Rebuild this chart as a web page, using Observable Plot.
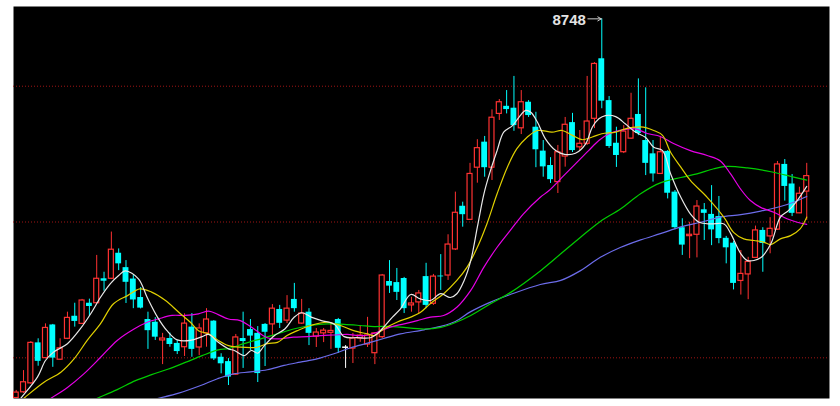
<!DOCTYPE html>
<html><head><meta charset="utf-8">
<script src="https://cdn.jsdelivr.net/npm/d3@7"></script>
<script src="https://cdn.jsdelivr.net/npm/@observablehq/plot@0.6"></script>
<style>html,body{margin:0;padding:0;background:#fff;}</style>
</head><body><div id="chart"></div>
<script>
const opens = [7352,7373,7406,7555,7499,7621,7493,7570,7653,7625,
7701,7701,7791,7791,7885,7832,7790,7722,7641,7631,
7564,7571,7553,7539,7613,7538,7590,7635,7502,7486,
7438,7571,7604,7590,7623,7623,7678,7637,7715,7626,
7668,7578,7590,7592,7641,7539,7534,7571,7549,7517,
7576,7781,7777,7792,7693,7704,7799,7699,7801,7803,
7899,8058,8008,8200,8294,8200,8398,8426,8419,8345,
8441,8349,8261,8208,8147,8241,8366,8275,8288,8380,
8601,8447,8290,8257,8307,8396,8300,8251,8177,8260,
8110,7979,7948,7953,8045,8028,8020,7940,7922,7783,
7807,7868,7969,7947,7972,8212,8140,8032,8112];
const closes = [7372,7410,7555,7487,7610,7499,7535,7647,7634,7711,
7689,7791,7782,7898,7846,7778,7713,7683,7600,7576,
7571,7549,7523,7626,7531,7608,7641,7496,7478,7429,
7575,7560,7580,7442,7594,7681,7627,7681,7681,7663,
7590,7593,7600,7599,7535,7539,7571,7582,7582,7590,
7803,7764,7741,7681,7700,7737,7693,7799,7798,7917,
8034,8027,8177,8272,8200,8384,8441,8414,8355,8441,
8392,8266,8203,8156,8257,8358,8263,8288,8370,8582,
8445,8278,8245,8333,8380,8326,8216,8177,8257,8106,
7979,7915,7953,8057,8032,7971,7939,7905,7774,7809,
7853,7969,7921,7975,8212,8131,8032,8104,8169];
const highs = [7380,7453,7560,7570,7625,7623,7570,7668,7701,7715,
7716,7877,7815,7963,7901,7858,7803,7759,7668,7648,
7590,7591,7564,7662,7663,7625,7681,7637,7515,7497,
7586,7668,7641,7615,7626,7696,7693,7729,7774,7715,
7681,7608,7608,7630,7645,7545,7590,7619,7649,7593,
7807,7858,7829,7796,7723,7748,7848,7807,7880,7953,
8110,8073,8216,8303,8315,8413,8451,8484,8536,8484,
8447,8404,8300,8237,8282,8385,8400,8337,8536,8587,
8748,8462,8349,8355,8474,8527,8494,8300,8313,8263,
8116,8012,7999,8079,8068,8134,8094,7947,7928,7895,
7870,7985,7979,8016,8223,8230,8175,8128,8216];
const lows = [7343,7369,7402,7469,7496,7465,7490,7567,7613,7623,
7652,7700,7745,7788,7821,7700,7681,7680,7531,7564,
7475,7539,7512,7505,7502,7508,7539,7490,7441,7398,
7435,7461,7527,7409,7468,7576,7608,7626,7668,7623,
7545,7538,7556,7531,7516,7461,7479,7557,7538,7475,
7571,7737,7711,7663,7668,7663,7681,7693,7748,7785,
7895,7981,8006,8143,8165,8153,8374,8398,8334,8322,
8385,8200,8165,8142,8105,8202,8256,8263,8282,8344,
8417,8271,8201,8252,8304,8318,8171,8147,8175,8085,
7972,7877,7865,7868,7932,7913,7920,7846,7750,7731,
7714,7866,7815,7883,7969,8077,8020,8031,8006];

// moving-average lines: [candle index, value]
const ma5 = [[0,7329],[0.6,7350],[2.9,7429],[4,7490],[5.1,7521],[7,7552],[8.8,7608],[10.2,7663],[11.5,7722],[12.9,7774],[14,7803],[14.9,7820],[16.7,7791],[17.9,7722],[19.3,7650],[20.6,7600],[22,7566],[23.8,7564],[25.4,7578],[26.3,7586],[27.6,7557],[29,7533],[29.8,7527],[31.2,7508],[32.1,7527],[33,7517],[33.9,7545],[35.3,7582],[36.7,7606],[38,7650],[39,7666],[40.3,7650],[41.7,7637],[43.5,7623],[44.8,7578],[46.6,7574],[48.4,7574],[49.3,7588],[50.2,7613],[51.4,7650],[52.5,7680],[53.9,7733],[55.2,7717],[56.6,7711],[58,7736],[59.3,7722],[60.2,7736],[61.2,7785],[62.1,7858],[63,7981],[63.9,8104],[64.8,8190],[65.7,8263],[66.6,8331],[67.8,8355],[68.7,8386],[69.6,8411],[70.3,8404],[71.2,8368],[72.3,8306],[73.7,8263],[74.9,8249],[76.4,8253],[77.8,8288],[78.7,8349],[79.6,8380],[80.5,8392],[81.9,8388],[83.2,8362],[84.6,8331],[86,8311],[87.1,8275],[88.3,8263],[89.4,8178],[90.8,8091],[92.1,8030],[93.3,7999],[94.9,7993],[96.7,7993],[97.6,7958],[99,7883],[99.9,7858],[101.7,7868],[103.1,7920],[104.4,8018],[105.5,8042],[106.7,8079],[108,8131]];
const ma10 = [[0,7328],[1,7350],[3.8,7410],[6.1,7447],[7.9,7496],[9.7,7564],[11.5,7625],[13.3,7699],[15.2,7729],[16.9,7754],[18.5,7742],[20.4,7711],[22.2,7668],[23.8,7631],[24.9,7600],[26.3,7588],[27.6,7564],[29,7545],[30.6,7539],[32.9,7539],[34.3,7552],[35.7,7557],[37,7582],[38.4,7600],[40.2,7619],[42.5,7631],[44.3,7619],[46.1,7600],[48,7588],[48.9,7582],[50.2,7606],[52,7631],[53.9,7650],[55.2,7667],[56.6,7700],[58.4,7736],[60.2,7785],[61.6,7834],[63,7907],[64.3,7993],[65.7,8104],[67.1,8202],[68.4,8270],[69.8,8312],[71.2,8337],[73.2,8331],[74.6,8337],[76,8319],[77.3,8303],[78.7,8313],[80,8325],[81.9,8331],[83.2,8343],[85.3,8350],[87.1,8337],[88.3,8319],[89.4,8257],[90.8,8202],[92.1,8153],[94.4,8091],[96.7,8017],[98,7962],[99.4,7938],[100.8,7932],[102.1,7926],[103.1,7917],[104.4,7938],[105.8,7950],[107.1,7975],[108,8018]];
const ma20 = [[3.5,7328],[4.7,7350],[7,7391],[9.2,7440],[11.5,7501],[13.8,7564],[16.1,7606],[17.9,7631],[19.4,7643],[21.3,7656],[23.1,7656],[24.9,7662],[26.3,7672],[27.6,7659],[29,7643],[30.6,7637],[32.5,7606],[34.3,7574],[36.1,7570],[37.9,7576],[39.8,7578],[41.6,7582],[43.4,7584],[45.2,7586],[47.5,7582],[49.3,7594],[51.1,7613],[53,7625],[54.8,7637],[56.6,7650],[58.4,7656],[60.2,7686],[62.1,7748],[63.9,7834],[65.7,7907],[67.5,7969],[69.3,8030],[71.6,8091],[72.8,8116],[74.6,8165],[76.4,8214],[78.2,8263],[79.6,8300],[81,8325],[82.8,8339],[84.6,8343],[86.2,8326],[88,8315],[89.8,8289],[92.1,8263],[94.4,8245],[96.2,8225],[97.6,8177],[99,8120],[100.3,8079],[101.7,8054],[103.5,8036],[105.3,8012],[106.7,7999],[108,7991]];
const ma40 = [[9.5,7332],[11,7350],[13.8,7383],[16.3,7416],[18.5,7438],[20.8,7459],[23.1,7483],[25.4,7508],[27.6,7529],[29,7534],[31.1,7552],[33.4,7570],[35.7,7588],[37.9,7606],[40.2,7619],[42.5,7625],[44.8,7623],[47,7619],[48.9,7615],[50.7,7616],[52.5,7613],[55.7,7606],[58,7612],[60,7630],[62.1,7656],[64.8,7699],[67.5,7740],[71.6,7820],[74.4,7883],[77.1,7944],[79.8,8002],[82.6,8049],[85.3,8104],[88,8144],[90.8,8164],[93,8177],[95.3,8196],[97.1,8205],[99.9,8199],[103.1,8185],[105.8,8168],[108,8154]];
const ma60 = [[17,7334],[19.3,7350],[22.2,7370],[25.2,7398],[27.5,7423],[29.7,7441],[32,7448],[34.3,7456],[36.6,7472],[38.8,7484],[41.1,7496],[43.4,7515],[45.7,7537],[48,7554],[50.2,7571],[52.5,7588],[55.7,7603],[58,7616],[60,7634],[62.1,7670],[64.8,7705],[67.5,7733],[71.6,7770],[74.4,7785],[77.1,7821],[79.8,7870],[82.6,7907],[85.3,7934],[88,7957],[90.8,7982],[93.5,7999],[96.2,8018],[99,8027],[101.7,8040],[104.4,8057],[106.2,8073],[108,8094]];

const gridValues = [7500, 8000, 8500];

const candles = opens.map((o, i) => ({i, open: o, close: closes[i], high: highs[i], low: lows[i]}));
const up = candles.filter(d => d.close > d.open);
const down = candles.filter(d => d.close < d.open);
const flat = candles.filter(d => d.close === d.open);
const UP = "#ff3232", DOWN = "#00ffff";
const hiIdx = d3.maxIndex(highs);
const arrowLen = 1.9; // in candle steps

const maLine = (arr, color) => Plot.line(arr, {x: d => d[0], y: d => d[1], stroke: color, strokeWidth: 1.2, curve: "catmull-rom", clip: true});

const chart = Plot.plot({
  width: 840, height: 406,
  marginLeft: 13, marginRight: 11, marginTop: 6, marginBottom: 8,
  style: {background: "#fff"},
  x: {domain: [-0.369, 111.11], axis: null},
  y: {domain: [7350.2, 8793.5], axis: null},
  marks: [
    Plot.frame({fill: "#000", stroke: "none"}),
    Plot.ruleY(gridValues, {stroke: "#a01414", strokeDasharray: "1,2", strokeWidth: 1}),
    Plot.ruleX(down, {x: "i", y1: "low", y2: "high", stroke: DOWN, clip: true}),
    Plot.ruleX(up, {x: "i", y1: "low", y2: "high", stroke: UP, clip: true}),
    Plot.ruleX(flat, {x: "i", y1: "low", y2: "high", stroke: "#fff", clip: true}),
    Plot.rect(down, {x1: d => d.i - 0.4, x2: d => d.i + 0.4, y1: "open", y2: "close", fill: DOWN, clip: true}),
    Plot.rect(up, {x1: d => d.i - 0.34, x2: d => d.i + 0.34, y1: "open", y2: "close", fill: "#000", stroke: UP, strokeWidth: 1.2, clip: true}),
    Plot.ruleY(flat, {x1: d => d.i - 0.4, x2: d => d.i + 0.4, y: "close", stroke: "#fff", strokeWidth: 1.5}),
    maLine(ma60, "#6c6cea"),
    maLine(ma40, "#00cc00"),
    maLine(ma20, "#e600e6"),
    maLine(ma10, "#e0d000"),
    maLine(ma5, "#e8e8e8"),
    Plot.arrow([hiIdx], {x1: i => i - arrowLen, x2: i => i, y1: i => highs[i], y2: i => highs[i], stroke: "#cfcfcf", strokeWidth: 1, headLength: 6, insetEnd: 0.5}),
    Plot.text([hiIdx], {x: i => i - arrowLen, y: i => highs[i], text: i => String(highs[i]), textAnchor: "end", dx: -2, dy: 1, fill: "#e4e4e4", fontSize: 15, fontWeight: "bold", fontFamily: "Liberation Sans, Arial, sans-serif"})
  ]
});
document.getElementById("chart").append(chart);
</script>
</body></html>
